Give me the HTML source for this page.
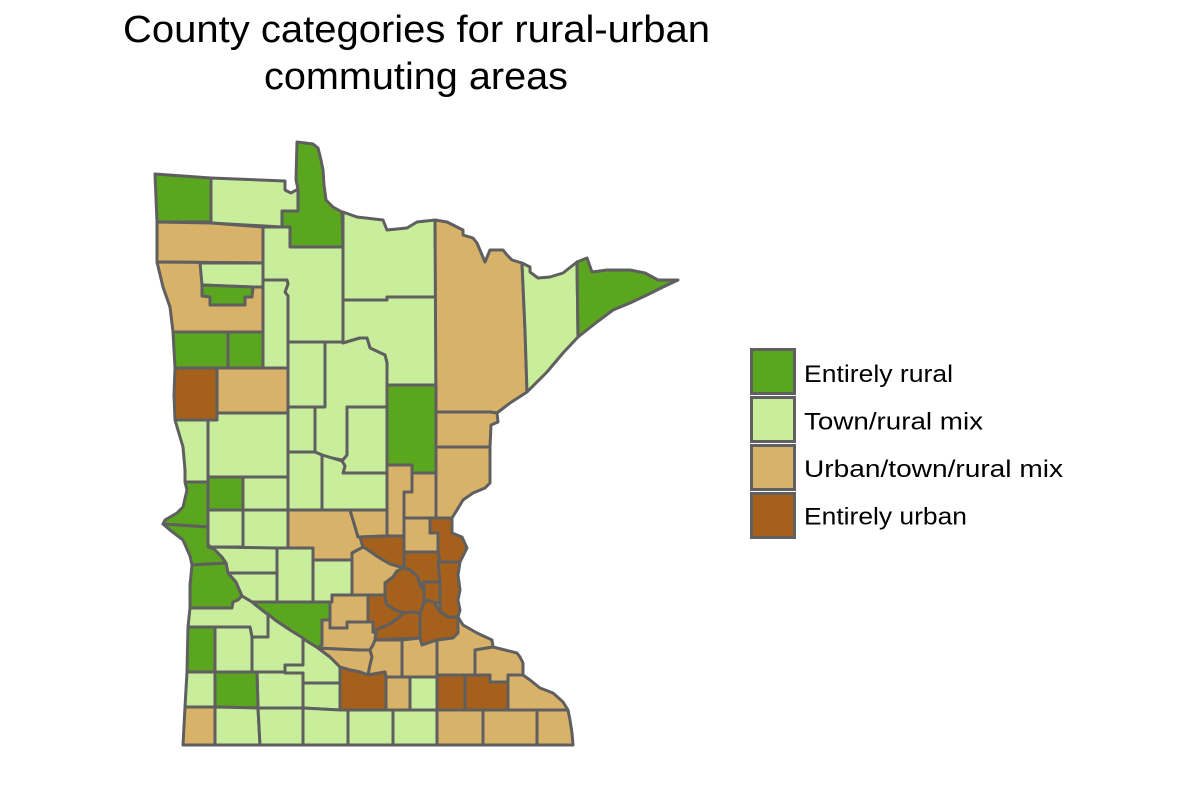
<!DOCTYPE html>
<html><head><meta charset="utf-8"><style>
html,body{margin:0;padding:0;background:#fff;}
svg{display:block;}
.d{fill:#5BA61F}.l{fill:#C8EE9C}.t{fill:#D8B268}.b{fill:#A5601B}
</style></head><body>
<svg width="1200" height="800" viewBox="0 0 1200 800" xmlns="http://www.w3.org/2000/svg">
<rect width="1200" height="800" fill="#fff"/>
<g font-family="'Liberation Sans', sans-serif" fill="#000">
<text x="123" y="42" font-size="38" textLength="587" lengthAdjust="spacingAndGlyphs">County categories for rural-urban</text>
<text x="264" y="89" font-size="38" textLength="304" lengthAdjust="spacingAndGlyphs">commuting areas</text>
</g>
<polygon fill="#C8EE9C" points="155,174 211,178 285,181 285,190 291,193 298,189 296,180 297,142 305,143 313,144 318,148 321,160 323,170 324,185 326,200 333,207 342,212 357,217 383,220 387,230 407,228 417,222 435,220 447,222 463,230 463,235 473,238 477,243 485,262 490,250 503,250 507,255 512,260 522,263 530,267 530,272 538,278 550,277 563,273 577,262 587,258 592,272 607,270 630,270 645,273 658,280 678,280 663,287 647,295 630,303 613,310 597,322 578,337 563,353 547,372 527,392 510,403 497,413 498,422 491,425 490,447 490,483 485,488 473,493 463,500 457,510 452,518 452,533 462,537 467,548 460,562 458,575 460,590 458,600 460,610 458,617 463,625 477,633 492,640 493,647 505,650 517,653 520,657 523,663 523,673 530,680 540,688 553,693 563,702 568,710 570,720 572,733 573,745 183,745 185,707 187,672 188,627 190,607 190,585 192,567 190,556 183,540 170,530 163,524 165,520 177,513 183,507 187,490 185,480 183,447 175,420 174,395 175,368 173,332 170,307 163,287 157,262 157,222"/>
<g stroke="#5f5f5f" stroke-width="3" stroke-linejoin="round">
<polygon class="d" points="155,174 211,178 211,222 157,222"/>
<polygon class="l" points="211,178 285,181 285,190 291,193 298,189 298,211 282,211 282,227 211,223"/>
<polygon class="d" points="297,142 305,143 313,144 318,148 321,160 323,170 324,185 326,200 333,207 342,212 343,247 290,247 290,227 282,227 282,211 298,211 298,189 296,180"/>
<polygon class="t" points="157,222 211,223 263,227 263,263 157,262"/>
<polygon class="t" points="157,262 263,263 263,332 173,332 170,307 163,287"/>
<polygon class="l" points="200,263 263,263 263,287 253,287 202,285"/>
<polygon class="d" points="202,285 253,287 252,297 245,297 245,305 210,305 210,297 202,296"/>
<polygon class="l" points="263,227 290,227 290,247 343,247 343,342 288,342 288,296 285,292 288,284 287,280 263,280"/>
<polygon class="l" points="263,280 287,280 288,284 285,292 288,296 288,368 263,368"/>
<polygon class="d" points="173,332 228,332 228,368 175,368"/>
<polygon class="d" points="228,332 263,332 263,368 228,368"/>
<polygon class="b" points="175,368 217,368 217,420 175,420 174,395"/>
<polygon class="t" points="217,368 288,368 288,413 217,413"/>
<polygon class="l" points="288,342 325,342 325,407 288,407"/>
<polygon class="l" points="343,212 357,217 383,220 387,230 407,228 417,222 435,220 436,297 387,297 387,300 343,300"/>
<polygon class="l" points="343,300 387,300 387,297 436,297 436,385 387,385 387,363 385,355 370,348 367,338 360,338 343,343"/>
<polygon class="l" points="325,342 343,342 343,343 360,338 367,338 370,348 385,355 387,363 387,407 347,407 347,455 345,462 342,460 332,458 322,455 315,452 315,407 325,407"/>
<polygon class="t" points="435,220 447,222 463,230 463,235 473,238 477,243 485,262 490,250 503,250 507,255 512,260 522,263 525,330 527,392 510,403 497,413 490,412 436,412"/>
<polygon class="l" points="522,263 530,267 530,272 538,278 550,277 563,273 577,262 578,337 563,353 547,372 527,392 525,330"/>
<polygon class="d" points="577,262 587,258 592,272 607,270 630,270 645,273 658,280 678,280 663,287 647,295 630,303 613,310 597,322 578,337"/>
<polygon class="d" points="387,385 436,385 436,473 412,473 412,465 387,465"/>
<polygon class="t" points="436,412 490,412 497,413 498,422 491,425 490,447 436,447"/>
<polygon class="t" points="436,447 490,447 490,483 485,488 473,493 463,500 457,510 452,518 436,518"/>
<polygon class="l" points="347,407 387,407 387,473 343,473 345,466 342,461 347,455"/>
<polygon class="l" points="288,407 315,407 315,452 288,452"/>
<polygon class="l" points="217,413 288,413 288,477 208,477 208,420 217,420"/>
<polygon class="l" points="175,420 208,420 208,482 185,482 185,470 183,447"/>
<polygon class="l" points="288,452 315,452 322,455 322,510 288,510"/>
<polygon class="l" points="322,455 332,458 342,461 345,466 343,473 387,473 387,510 322,510"/>
<polygon class="t" points="387,465 412,465 412,492 404,492 404,536 387,536"/>
<polygon class="t" points="412,473 436,473 436,518 404,518 404,492 412,492"/>
<polygon class="d" points="185,482 208,482 208,527 163,524 165,520 177,513 183,507 187,490"/>
<polygon class="d" points="208,477 243,477 243,510 208,510"/>
<polygon class="l" points="243,477 288,477 288,510 243,510"/>
<polygon class="l" points="208,510 243,510 243,547 208,547"/>
<polygon class="l" points="243,510 288,510 288,548 243,548"/>
<polygon class="d" points="163,524 208,527 208,545 214,549 222,557 226,563 192,565 190,556 183,540 170,530"/>
<polygon class="l" points="208,547 277,548 277,573 228,573 226,563 222,557 214,549"/>
<polygon class="d" points="192,565 226,563 228,573 236,582 242,596 238,600 233,602 232,608 190,608 190,585"/>
<polygon class="l" points="228,573 277,573 277,602 252,602 242,596 236,582"/>
<polygon class="l" points="190,608 232,608 233,602 238,600 242,596 252,602 262,610 268,614 268,637 252,637 250,627 188,627"/>
<polygon class="l" points="277,548 313,548 313,602 277,602"/>
<polygon class="d" points="252,602 330,602 330,620 322,620 322,645 318,648 305,640 290,630 275,620 262,610"/>
<polygon class="l" points="252,637 268,637 268,614 275,620 290,630 303,638 303,665 285,665 285,672 252,672"/>
<polygon class="l" points="215,627 250,627 252,637 252,672 215,672"/>
<polygon class="d" points="188,627 215,627 215,672 187,672"/>
<polygon class="l" points="303,638 305,640 318,648 330,657 340,667 340,683 303,683 303,673 285,673 285,665 303,665"/>
<polygon class="t" points="318,648 360,650 370,650 372,657 370,665 368,675 360,672 350,670 340,667 330,657"/>
<polygon class="t" points="322,620 330,620 330,628 347,628 347,622 373,622 373,632 376,633 375,640 373,645 370,650 360,650 318,648 322,645"/>
<polygon class="l" points="313,560 352,560 352,595 332,595 332,602 313,602"/>
<polygon class="t" points="332,595 368,595 368,622 347,622 347,628 330,628 330,602 332,602"/>
<polygon class="t" points="288,510 350,510 353,520 356,530 358,537 360,537 363,547 355,552 352,553 352,560 313,560 313,548 288,548"/>
<polygon class="t" points="350,510 387,510 387,536 360,537 358,537 356,530 353,520"/>
<polygon class="b" points="360,537 387,536 404,536 404,568 390,564 378,557 368,550 363,547"/>
<polygon class="t" points="352,553 363,547 368,550 378,557 390,564 404,568 397,571 393,577 385,583 385,595 368,595 352,595"/>
<polygon class="t" points="404,518 430,518 430,533 438,533 438,552 404,552"/>
<polygon class="b" points="430,518 452,518 452,533 462,537 467,548 460,562 438,562 438,533 430,533"/>
<polygon class="b" points="404,552 438,552 440,562 440,582 424,582 421,587 417,576 410,570 404,568"/>
<polygon class="b" points="438,562 460,562 458,575 460,590 458,600 460,610 458,617 448,617 440,612 440,582"/>
<polygon class="b" points="385,583 393,577 397,571 404,568 410,570 417,576 421,587 424,590 424,603 420,613 412,612 404,613 395,610 386,604 385,595"/>
<polygon class="b" points="424,582 440,582 440,603 435,603 424,601"/>
<polygon class="b" points="368,595 385,595 386,604 395,610 404,613 398,618 390,624 380,628 373,632 373,622 368,622"/>
<polygon class="b" points="373,632 380,628 390,624 398,618 404,613 412,612 420,613 420,638 375,640 376,633"/>
<polygon class="b" points="420,613 424,603 428,600 435,603 440,612 448,617 458,617 458,633 453,638 437,640 422,645 420,638"/>
<polygon class="t" points="373,645 375,640 402,640 402,677 386,677 385,672 368,675 370,665 372,657 370,650"/>
<polygon class="t" points="402,640 420,638 422,645 437,640 437,677 402,677"/>
<polygon class="t" points="437,640 453,638 458,633 458,617 463,625 477,633 492,640 493,647 475,650 475,675 437,675"/>
<polygon class="t" points="475,650 493,647 505,650 517,653 520,657 523,663 523,675 508,675 508,682 490,682 490,675 475,675"/>
<polygon class="t" points="508,675 523,675 530,680 540,688 553,693 563,702 568,710 508,710"/>
<polygon class="b" points="465,675 490,675 490,682 508,682 508,710 465,710"/>
<polygon class="b" points="437,675 465,675 465,710 437,710"/>
<polygon class="l" points="410,677 437,677 437,710 410,710"/>
<polygon class="t" points="386,677 410,677 410,710 386,710"/>
<polygon class="b" points="340,667 350,670 360,672 368,675 385,672 386,677 386,710 340,710"/>
<polygon class="l" points="303,683 340,683 340,710 303,708"/>
<polygon class="l" points="257,672 285,672 285,673 303,673 303,708 258,708"/>
<polygon class="d" points="215,672 257,672 258,708 215,707"/>
<polygon class="l" points="187,672 215,672 215,707 185,707"/>
<polygon class="t" points="185,707 215,707 215,745 183,745"/>
<polygon class="l" points="215,707 258,708 260,745 215,745"/>
<polygon class="l" points="258,708 303,708 303,745 260,745"/>
<polygon class="l" points="303,708 340,710 348,710 348,745 303,745"/>
<polygon class="l" points="348,710 393,710 393,745 348,745"/>
<polygon class="l" points="393,710 437,710 437,745 393,745"/>
<polygon class="t" points="437,710 483,710 483,745 437,745"/>
<polygon class="t" points="483,710 537,710 537,745 483,745"/>
<polygon class="t" points="537,710 568,710 570,720 572,733 573,745 537,745"/>
</g>
<g stroke="#606060" stroke-width="3">
<rect class="d" x="751.5" y="349.5" width="43" height="44"/>
<rect class="l" x="751.5" y="397.5" width="43" height="44"/>
<rect class="t" x="751.5" y="445.5" width="43" height="44"/>
<rect class="b" x="751.5" y="493.5" width="43" height="44"/>
</g>
<g font-family="'Liberation Sans', sans-serif" font-size="24" fill="#000">
<text x="804" y="382" textLength="149" lengthAdjust="spacingAndGlyphs">Entirely rural</text>
<text x="804" y="429.5" textLength="179" lengthAdjust="spacingAndGlyphs">Town/rural mix</text>
<text x="804" y="477" textLength="259" lengthAdjust="spacingAndGlyphs">Urban/town/rural mix</text>
<text x="804" y="524.5" textLength="163" lengthAdjust="spacingAndGlyphs">Entirely urban</text>
</g>
</svg>
</body></html>
